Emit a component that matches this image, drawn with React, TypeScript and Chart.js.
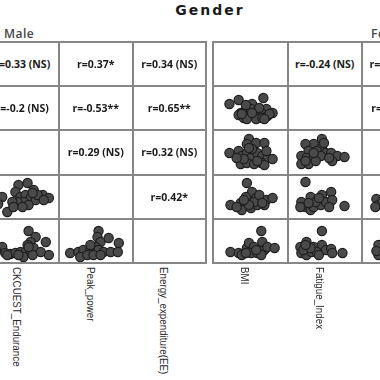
import React, { useEffect, useRef } from "react";
import { Chart, registerables } from "chart.js";
Chart.register(...registerables);

// ---------- data ----------
const variables = ["BMI", "Fatigue_Index", "CKCUEST_Endurance", "Peak_power", "Energy_expenditure(EE)"];
const maleTitle = "Male";
const femaleTitle = "Female";
const chartTitle = "Gender";

// correlation labels (upper triangle)
const maleCorrRows = [0, 0, 0, 0, 1, 1, 1, 2, 2, 3];
const maleCorrCols = [1, 2, 3, 4, 2, 3, 4, 3, 4, 4];
const maleCorrText = ["r=0.10 (NS)", "r=0.33 (NS)", "r=0.37*", "r=0.34 (NS)", "r=-0.2 (NS)", "r=-0.53**", "r=0.65**", "r=0.29 (NS)", "r=0.32 (NS)", "r=0.42*"];
const femaleCorrRows = [0, 0, 1];
const femaleCorrCols = [1, 2, 2];
const femaleCorrText = ["r=-0.24 (NS)", "r=-0.12 (NS)", "r=0.19 (NS)"];

// scatter points (row variable vs column variable)
const mCkcPeakX = [41, 32, 29, 47, 56, 62, 34, 39, 44, 49, 37, 42, 31, 26, 16, 21, 27, 36, 51, 46, 57, 8, 12];
const mCkcPeakY = [36, 34, 27, 29, 24, 21, 22, 24, 21, 19, 17, 14, 17, 17, 22, 7, 12, 12, 24, 26, 19, 20, 15];
const mCkcEeX = [42, 49, 44, 41, 59, 62, 16, 19, 24, 29, 34, 39, 44, 47, 54, 37, 32, 46, 42, 21, 10];
const mCkcEeY = [32, 26, 21, 18, 21, 8, 16, 10, 9, 10, 11, 11, 12, 15, 11, 6, 8, 8, 16, 8, 12];
const mPeakEeX = [39, 38, 41, 49, 59, 11, 19, 24, 31, 36, 39, 44, 51, 58, 21, 28, 34, 41, 31];
const mPeakEeY = [32, 26, 21, 25, 20, 10, 11, 13, 14, 16, 13, 11, 11, 11, 6, 8, 8, 8, 18];

const fBmiFatX = [16, 25, 49, 38, 52, 27, 32, 37, 43, 47, 58, 25, 30, 35, 40, 42, 48, 53, 33, 28, 45, 55, 38, 50, 32];
const fBmiFatY = [26, 30, 32, 26, 21, 17, 20, 21, 19, 17, 17, 15, 12, 14, 16, 11, 12, 14, 11, 16, 22, 16, 17, 11, 25];
const fBmiCkcX = [35, 33, 42, 50, 16, 25, 28, 33, 37, 43, 48, 53, 58, 27, 33, 40, 47, 50, 30, 43, 38, 23, 52, 35];
const fBmiCkcY = [35, 30, 31, 31, 21, 23, 18, 21, 16, 21, 18, 16, 15, 10, 11, 10, 11, 9, 15, 13, 25, 16, 23, 26];
const fBmiPeakX = [33, 17, 27, 33, 38, 32, 42, 47, 52, 58, 28, 37, 43, 50, 40, 35, 45, 23, 48, 30];
const fBmiPeakY = [36, 14, 16, 17, 27, 22, 21, 17, 19, 21, 9, 11, 14, 14, 17, 14, 24, 12, 16, 19];
const fBmiEeX = [47, 48, 17, 25, 33, 35, 40, 37, 43, 50, 53, 60, 28, 32, 47, 42];
const fBmiEeY = [32, 21, 11, 10, 15, 20, 16, 10, 10, 13, 16, 15, 8, 10, 8, 13];
const fFatCkcX = [33, 25, 33, 17, 20, 28, 37, 42, 48, 55, 13, 18, 25, 32, 13, 20, 27, 43, 40, 17, 25, 35];
const fFatCkcY = [35, 30, 26, 30, 23, 23, 21, 21, 18, 17, 18, 16, 16, 18, 10, 10, 13, 13, 16, 13, 21, 31];
const fFatPeakX = [17, 42, 33, 22, 13, 17, 22, 25, 32, 37, 43, 55, 27, 12, 20, 30, 40];
const fFatPeakY = [37, 27, 24, 22, 17, 12, 9, 12, 14, 17, 19, 13, 17, 12, 16, 21, 12];
const fFatEeX = [33, 18, 33, 25, 12, 13, 18, 23, 28, 37, 42, 53, 43, 15, 22, 30, 17];
const fFatEeY = [32, 21, 18, 16, 16, 10, 8, 11, 11, 13, 14, 10, 10, 13, 15, 8, 18];
const fCkcPeakX = [14, 16, 13, 20, 25];
const fCkcPeakY = [20, 14, 12, 18, 16];
const fCkcEeX = [16, 16, 14, 22];
const fCkcEeY = [18, 8, 12, 12];

// ---------- layout ----------
const TOP = 42;
const ROW_H = 44.2;
const M_LEFT = -161.5;
const M_W = 73.5;
const F_LEFT = 213;
const F_W = 74.5;
const X_MAX = 73;
const Y_MAX = 44;

type Cell = { panel: "m" | "f"; row: number; col: number; xs: number[]; ys: number[] };
const scatterCells: Cell[] = [
  { panel: "m", row: 3, col: 2, xs: mCkcPeakX, ys: mCkcPeakY },
  { panel: "m", row: 4, col: 2, xs: mCkcEeX, ys: mCkcEeY },
  { panel: "m", row: 4, col: 3, xs: mPeakEeX, ys: mPeakEeY },
  { panel: "f", row: 1, col: 0, xs: fBmiFatX, ys: fBmiFatY },
  { panel: "f", row: 2, col: 0, xs: fBmiCkcX, ys: fBmiCkcY },
  { panel: "f", row: 3, col: 0, xs: fBmiPeakX, ys: fBmiPeakY },
  { panel: "f", row: 4, col: 0, xs: fBmiEeX, ys: fBmiEeY },
  { panel: "f", row: 2, col: 1, xs: fFatCkcX, ys: fFatCkcY },
  { panel: "f", row: 3, col: 1, xs: fFatPeakX, ys: fFatPeakY },
  { panel: "f", row: 4, col: 1, xs: fFatEeX, ys: fFatEeY },
  { panel: "f", row: 3, col: 2, xs: fCkcPeakX, ys: fCkcPeakY },
  { panel: "f", row: 4, col: 2, xs: fCkcEeX, ys: fCkcEeY },
];

const colLeft = (p: "m" | "f", c: number) => (p === "m" ? M_LEFT + c * M_W : F_LEFT + c * F_W);
const colW = (p: "m" | "f") => (p === "m" ? M_W : F_W);

function ScatterCell({ cell }: { cell: Cell }) {
  const ref = useRef<HTMLCanvasElement | null>(null);
  const w = Math.round(colW(cell.panel));
  const h = Math.round(ROW_H);
  useEffect(() => {
    if (!ref.current) return;
    const chart = new Chart(ref.current, {
      type: "scatter",
      data: {
        datasets: [
          {
            data: cell.xs.map((x, i) => ({ x, y: cell.ys[i] })),
            backgroundColor: "#4a4a4a",
            borderColor: "#1e1e1e",
            borderWidth: 1.2,
            pointRadius: 4.6,
            clip: false,
          },
        ],
      },
      options: {
        animation: false,
        responsive: false,
        maintainAspectRatio: false,
        layout: { padding: 0, autoPadding: false },
        plugins: { legend: { display: false }, tooltip: { enabled: false } },
        scales: {
          x: { type: "linear", display: false, min: 0, max: X_MAX },
          y: { type: "linear", display: false, min: 0, max: Y_MAX },
        },
      },
    });
    return () => chart.destroy();
  }, []);
  return (
    <canvas
      ref={ref}
      width={w}
      height={h}
      style={{
        position: "absolute",
        left: colLeft(cell.panel, cell.col),
        top: TOP + cell.row * ROW_H,
        width: w,
        height: h,
      }}
    />
  );
}

const LINE = "#868686";
const LW = 2;

export default function App() {
  const lines: React.ReactNode[] = [];
  (["m", "f"] as const).forEach((p) => {
    for (let c = 0; c <= 5; c++) {
      lines.push(
        <div key={`v${p}${c}`} style={{ position: "absolute", left: colLeft(p, c) - LW / 2, top: TOP - LW / 2, width: LW, height: 5 * ROW_H + LW, background: LINE }} />
      );
    }
    for (let r = 0; r <= 5; r++) {
      lines.push(
        <div key={`h${p}${r}`} style={{ position: "absolute", left: colLeft(p, 0), top: TOP + r * ROW_H - LW / 2, width: 5 * colW(p), height: LW, background: LINE }} />
      );
    }
  });

  const corr: React.ReactNode[] = [];
  const addCorr = (p: "m" | "f", rows: number[], cols: number[], texts: string[]) =>
    texts.forEach((t, i) => {
      corr.push(
        <div
          key={`c${p}${i}`}
          style={{
            position: "absolute",
            left: colLeft(p, cols[i]),
            top: TOP + rows[i] * ROW_H,
            width: colW(p),
            height: ROW_H,
            display: "flex",
            alignItems: "center",
            justifyContent: "center",
            whiteSpace: "nowrap",
            font: "700 10.5px 'Open Sans', sans-serif",
            color: "#1a1a1a",
          }}
        >
          {t}
        </div>
      );
    });
  addCorr("m", maleCorrRows, maleCorrCols, maleCorrText);
  addCorr("f", femaleCorrRows, femaleCorrCols, femaleCorrText);

  const labels: React.ReactNode[] = [];
  (["m", "f"] as const).forEach((p) =>
    variables.forEach((v, c) => {
      const cx = colLeft(p, c) + colW(p) / 2 - 5;
      labels.push(
        <div
          key={`l${p}${c}`}
          style={{
            position: "absolute",
            left: cx,
            top: TOP + 5 * ROW_H + 4,
            transformOrigin: "0 0",
            transform: "rotate(90deg) scale(0.89, 1) translateY(-50%)",
            whiteSpace: "nowrap",
            font: "11px 'Liberation Sans', Arial, sans-serif",
            color: "#2a2a2a",
            lineHeight: "12px",
          }}
        >
          {v}
        </div>
      );
    })
  );

  return (
    <div style={{ position: "fixed", left: 0, top: 0, width: 380, height: 380, overflow: "hidden", background: "#fff" }}>
      <div style={{ position: "absolute", left: 0, width: 420, top: 2, textAlign: "center", font: "700 14px 'DejaVu Sans', sans-serif", letterSpacing: 2, color: "#1a1a1a" }}>
        {chartTitle}
      </div>
      <div style={{ position: "absolute", left: 4, top: 25, font: "600 12px 'Open Sans', sans-serif", letterSpacing: 0.5, color: "#444" }}>{maleTitle}</div>
      <div style={{ position: "absolute", left: 371, top: 25, font: "600 12px 'Open Sans', sans-serif", letterSpacing: 0.5, color: "#444" }}>{femaleTitle}</div>
      {scatterCells.map((cell, i) => (
        <ScatterCell key={i} cell={cell} />
      ))}
      {corr}
      {lines}
      {labels}
    </div>
  );
}
